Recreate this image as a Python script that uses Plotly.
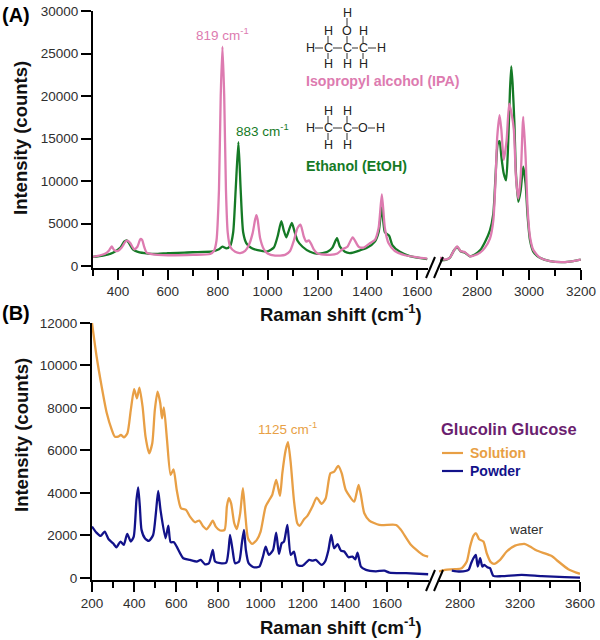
import plotly.graph_objects as go

WIDTH, HEIGHT = 600, 640

# Panel A: alcohol spectra, fingerprint region
ipa_low_shift = [300, 330, 350, 365, 375, 385, 400, 415, 430, 440, 450, 465, 478, 490, 497, 505, 515, 530, 560, 600, 700, 770, 785, 795, 805, 812, 819, 826, 833, 840, 850, 870, 890, 910, 925, 940, 950, 955, 960, 970, 985, 1000, 1030, 1070, 1090, 1105, 1120, 1132, 1145, 1155, 1165, 1175, 1185, 1200, 1250, 1280, 1300, 1320, 1341, 1365, 1385, 1410, 1430, 1445, 1458, 1470, 1485, 1510, 1550, 1600, 1640]
ipa_low_counts = [1100, 1300, 1500, 1900, 2350, 1900, 1800, 2200, 2900, 3000, 2700, 2000, 2300, 3200, 3100, 2300, 1600, 1450, 1350, 1300, 1350, 1450, 1800, 3000, 9000, 20000, 25800, 20000, 9000, 4000, 2300, 1700, 1550, 1800, 2500, 3900, 5500, 6000, 5500, 3300, 2000, 1500, 1250, 1350, 1800, 3000, 4500, 4900, 3500, 2900, 3050, 2600, 2000, 1500, 1350, 1500, 2000, 2300, 3400, 2300, 2200, 2700, 3100, 4500, 8450, 4500, 2700, 1800, 1300, 1050, 900]
etoh_low_shift = [300, 340, 380, 410, 425, 435, 445, 460, 480, 520, 560, 600, 700, 780, 805, 819, 835, 850, 862, 872, 883, 892, 902, 915, 935, 960, 1000, 1025, 1040, 1055, 1065, 1075, 1085, 1097, 1107, 1120, 1140, 1170, 1200, 1240, 1260, 1278, 1290, 1310, 1330, 1400, 1430, 1445, 1458, 1470, 1487, 1500, 1530, 1570, 1640]
etoh_low_counts = [1100, 1250, 1600, 2200, 2900, 3050, 2700, 2000, 1700, 1500, 1450, 1550, 1650, 1750, 2000, 2300, 2100, 2400, 4000, 9000, 14600, 9000, 4000, 2700, 2150, 1900, 1750, 2200, 3500, 5300, 4200, 3400, 4200, 5100, 4200, 3000, 2300, 1700, 1450, 1700, 2200, 3300, 2300, 1700, 1550, 2200, 2900, 4000, 6950, 4000, 3600, 2500, 1700, 1200, 850]

# Panel A: C-H stretching region
ipa_high_shift = [2658, 2677, 2696, 2712, 2724, 2737, 2754, 2773, 2792, 2812, 2831, 2850, 2863, 2872, 2878, 2887, 2894, 2903, 2914, 2924, 2933, 2942, 2950, 2959, 2968, 2978, 2987, 2995, 3004, 3017, 3042, 3081, 3132, 3170, 3199]
ipa_high_counts = [1020, 780, 1020, 1880, 2350, 1800, 1650, 1170, 1300, 1600, 2200, 3250, 5400, 10500, 15200, 17750, 16000, 12500, 14800, 19100, 17950, 16000, 10500, 7950, 10500, 17560, 12850, 6600, 3450, 1900, 1020, 620, 500, 620, 780]
etoh_high_shift = [2658, 2683, 2696, 2712, 2724, 2737, 2754, 2773, 2792, 2812, 2831, 2850, 2863, 2872, 2880, 2887, 2894, 2903, 2912, 2919, 2927, 2932, 2937, 2944, 2950, 2959, 2968, 2978, 2987, 2995, 3004, 3017, 3042, 3081, 3132, 3170, 3199]
etoh_high_counts = [700, 780, 1020, 1880, 2270, 1760, 1600, 1170, 1400, 1880, 2860, 4230, 6200, 10900, 14400, 14700, 12850, 10900, 10100, 13600, 20700, 23500, 21500, 16800, 10900, 7560, 8900, 11700, 9700, 5800, 3050, 1700, 1000, 600, 500, 620, 780]

# Panel B: glucose spectra, fingerprint region
solution_low_shift = [200, 222, 246, 270, 294, 308, 324, 337, 352, 368, 384, 400, 413, 425, 440, 454, 471, 486, 498, 511, 524, 532, 541, 556, 573, 587, 602, 622, 646, 665, 689, 709, 728, 744, 760, 773, 787, 808, 829, 840, 849, 860, 875, 887, 903, 916, 927, 940, 959, 982, 1000, 1024, 1043, 1055, 1074, 1092, 1103, 1119, 1130, 1143, 1158, 1174, 1185, 1206, 1222, 1246, 1266, 1290, 1309, 1331, 1349, 1368, 1385, 1404, 1444, 1455, 1465, 1476, 1492, 1516, 1563, 1643, 1666, 1714, 1770, 1795]
solution_low_counts = [12000, 10410, 9000, 7760, 6965, 6650, 6650, 6730, 6620, 6810, 7900, 8890, 8455, 8960, 8060, 6650, 5865, 6340, 7900, 8770, 8220, 7510, 8030, 6490, 4850, 5110, 4140, 3280, 3200, 2885, 2620, 2700, 2415, 2290, 2490, 2700, 2415, 2230, 2260, 3360, 3750, 3510, 2570, 2300, 3040, 4220, 3040, 1865, 1600, 1790, 2180, 3360, 3700, 3905, 4610, 3860, 4925, 6025, 6385, 5400, 3670, 2570, 2450, 2760, 2920, 3360, 3780, 3480, 3750, 4925, 5000, 5270, 4925, 4140, 3590, 3980, 4375, 3905, 3040, 2700, 2490, 2490, 2260, 1550, 1080, 1000]
powder_low_shift = [200, 221, 241, 260, 279, 300, 316, 335, 351, 367, 384, 398, 411, 419, 427, 435, 451, 470, 490, 503, 514, 525, 549, 562, 573, 589, 602, 633, 665, 697, 716, 736, 755, 773, 784, 808, 837, 848, 855, 867, 879, 898, 911, 921, 930, 943, 967, 994, 1011, 1024, 1039, 1059, 1074, 1087, 1100, 1111, 1127, 1143, 1158, 1174, 1198, 1230, 1246, 1262, 1289, 1306, 1322, 1335, 1349, 1365, 1381, 1397, 1417, 1436, 1449, 1460, 1476, 1500, 1547, 1587, 1611, 1690, 1795]
powder_low_counts = [2415, 2130, 1975, 2180, 1820, 1630, 1440, 1710, 1550, 2070, 1710, 1945, 3670, 4265, 3355, 2260, 1865, 1740, 2020, 3040, 4090, 3200, 1865, 2460, 1680, 1680, 1470, 925, 845, 770, 845, 640, 690, 1320, 770, 690, 720, 1320, 2020, 1320, 690, 770, 1630, 2260, 1320, 690, 500, 530, 1000, 1475, 1080, 1315, 2130, 1130, 1630, 1710, 2495, 1080, 1240, 610, 565, 845, 815, 845, 610, 770, 1315, 2020, 1395, 1585, 1285, 1240, 970, 1000, 875, 1190, 530, 375, 310, 340, 250, 220, 170]

# Panel B: C-H and water stretching region
solution_high_shift = [2660, 2700, 2767, 2811, 2845, 2867, 2889, 2907, 2927, 2956, 2978, 3005, 3027, 3067, 3111, 3167, 3229, 3267, 3311, 3411, 3456, 3522, 3600]
solution_high_counts = [300, 376, 408, 455, 770, 1475, 1976, 2100, 1820, 1710, 1160, 740, 660, 850, 1240, 1520, 1600, 1475, 1286, 1035, 770, 408, 190]
powder_high_shift = [2745, 2800, 2856, 2874, 2889, 2905, 2918, 2934, 2949, 2962, 2982, 3000, 3022, 3078, 3211, 3345, 3500, 3600]
powder_high_counts = [345, 300, 376, 690, 925, 1082, 533, 925, 533, 612, 500, 455, 95, 80, 140, 80, 40, 10]

panel_a_ticks = [0, 5000, 10000, 15000, 20000, 25000, 30000]
panel_b_ticks = [0, 2000, 4000, 6000, 8000, 10000, 12000]
a_low_ticks = [400, 600, 800, 1000, 1200, 1400, 1600]
a_high_ticks = [2800, 3000, 3200]
b_low_ticks = [200, 400, 600, 800, 1000, 1200, 1400, 1600]
b_high_ticks = [2800, 3200, 3600]

PINK = "#dd7bb0"
GREEN = "#157a26"
ORANGE = "#e89f45"
NAVY = "#12128a"
PURPLE = "#6b1f70"
TEXT = "#2e2e2e"
FONT = "Liberation Sans, Arial, sans-serif"


def px(x):
    return x / WIDTH


def py(y):
    return 1 - y / HEIGHT


def x_axis(domain, value_range, ticks, minor_start, minor_step, anchor):
    return dict(
        domain=[px(domain[0]), px(domain[1])], range=value_range, anchor=anchor,
        tickmode="array", tickvals=ticks, tickformat="d", ticks="outside", ticklen=10, tickwidth=1.6,
        tickcolor="black", showline=True, linewidth=2, linecolor="black",
        showgrid=False, zeroline=False, tickfont=dict(size=13.5, color=TEXT, family=FONT),
        minor=dict(tickmode="linear", tick0=minor_start, dtick=minor_step, ticks="outside",
                   ticklen=6, tickwidth=1.6, tickcolor="black", showgrid=False),
    )


def y_axis(domain, value_range, ticks, anchor):
    return dict(
        domain=[py(domain[1]), py(domain[0])], range=value_range, anchor=anchor,
        tickmode="array", tickvals=ticks, tickformat="d", ticks="outside", ticklen=10, tickwidth=1.6,
        tickcolor="black", showline=True, linewidth=2, linecolor="black",
        showgrid=False, zeroline=False, tickfont=dict(size=13.5, color=TEXT, family=FONT),
    )


fig = go.Figure()


def spectrum(xs, ys, color, xaxis, yaxis):
    fig.add_trace(go.Scatter(x=xs, y=ys, mode="lines", xaxis=xaxis, yaxis=yaxis,
                             line=dict(color=color, width=2.3, shape="spline", smoothing=0.6),
                             showlegend=False))


spectrum(etoh_low_shift, etoh_low_counts, GREEN, "x", "y")
spectrum(ipa_low_shift, ipa_low_counts, PINK, "x", "y")
spectrum(etoh_high_shift, etoh_high_counts, GREEN, "x2", "y")
spectrum(ipa_high_shift, ipa_high_counts, PINK, "x2", "y")
spectrum(solution_low_shift, solution_low_counts, ORANGE, "x3", "y2")
spectrum(powder_low_shift, powder_low_counts, NAVY, "x3", "y2")
spectrum(solution_high_shift, solution_high_counts, ORANGE, "x4", "y2")
spectrum(powder_high_shift, powder_high_counts, NAVY, "x4", "y2")

annotations = []
shapes = []


def label(x, y, text, size=13, color=TEXT, bold=False, anchor="center", angle=0):
    annotations.append(dict(
        x=px(x), y=py(y), xref="paper", yref="paper", xanchor=anchor, yanchor="middle",
        text=f"<b>{text}</b>" if bold else text, showarrow=False, textangle=angle,
        font=dict(size=size, color=color, family=FONT),
    ))


def segment(x0, y0, x1, y1, color="black", width=2.0):
    shapes.append(dict(type="line", xref="paper", yref="paper",
                       x0=px(x0), y0=py(y0), x1=px(x1), y1=py(y1),
                       line=dict(color=color, width=width)))


# Panel letters and axis titles
label(0, 15, "(A)", size=20, color="black", bold=True, anchor="left")
label(0, 313, "(B)", size=20, color="black", bold=True, anchor="left")
label(21, 138, "Intensity (counts)", size=18.5, color="#111111", bold=True, angle=-90)
label(21, 435, "Intensity (counts)", size=18.5, color="#111111", bold=True, angle=-90)
label(341, 313, "Raman shift (cm<sup>-1</sup>)", size=18.5, color="#111111", bold=True)
label(341, 626, "Raman shift (cm<sup>-1</sup>)", size=18.5, color="#111111", bold=True)

# Peak and compound labels
label(222, 34, "819 cm<sup>-1</sup>", color=PINK, size=13.5)
label(262, 130, "883 cm<sup>-1</sup>", color=GREEN, size=13.5)
label(304, 81, "Isopropyl alcohol (IPA)", color=PINK, size=14.2, bold=True, anchor="left")
label(304, 166, "Ethanol (EtOH)", color=GREEN, size=14.2, bold=True, anchor="left")
label(287, 428, "1125 cm<sup>-1</sup>", color=ORANGE, size=13.5)
label(439, 429, "Glucolin Glucose", color=PURPLE, size=16.5, bold=True, anchor="left")
label(468, 453, "Solution", color=ORANGE, size=14, bold=True, anchor="left")
label(468, 471, "Powder", color=NAVY, size=14, bold=True, anchor="left")
label(526, 529, "water", size=13.5)
segment(442, 453, 463, 453, ORANGE, 2.2)
segment(442, 471, 463, 471, NAVY, 2.2)

# Axis break marks
for y_top, y_bottom in [(257, 278), (570, 591)]:
    segment(435, y_top, 426, y_bottom)
    segment(443, y_top, 434, y_bottom)

# Structural formula of isopropyl alcohol
ipa_atoms = [(347, 13, "H"), (328, 31, "H"), (347, 31, "O"), (363, 31, "H"), (310, 48, "H"),
             (328, 48, "C"), (347, 48, "C"), (363, 48, "C"), (381, 48, "H"), (328, 64, "H"),
             (347, 64, "H"), (363, 64, "H")]
# Structural formula of ethanol
etoh_atoms = [(328, 111, "H"), (347, 111, "H"), (310, 128, "H"), (328, 128, "C"), (347, 128, "C"),
              (363, 128, "O"), (380, 128, "H"), (328, 145, "H"), (347, 145, "H")]
for ax, ay, atom in ipa_atoms + etoh_atoms:
    label(ax, ay, atom, size=12.5, color="#222222")

for bx in (328, 347, 363):
    segment(bx, 36, bx, 43, "#333333", 1)
    segment(bx, 53, bx, 59, "#333333", 1)
segment(347, 18, 347, 26, "#333333", 1)
for x0, x1 in [(315, 323), (333, 342), (352, 358), (368, 376)]:
    segment(x0, 48, x1, 48, "#333333", 1)
for bx in (328, 347):
    segment(bx, 116, bx, 123, "#333333", 1)
    segment(bx, 133, bx, 140, "#333333", 1)
for x0, x1 in [(315, 323), (333, 342), (352, 358), (368, 375)]:
    segment(x0, 128, x1, 128, "#333333", 1)

fig.update_layout(
    width=WIDTH, height=HEIGHT, margin=dict(l=0, r=0, t=0, b=0, autoexpand=False),
    paper_bgcolor="white", plot_bgcolor="rgba(0,0,0,0)", showlegend=False,
    font=dict(family=FONT),
    xaxis=x_axis((93, 428), [300, 1643], a_low_ticks, 300, 100, "y"),
    xaxis2=x_axis((440, 581), [2658, 3200], a_high_ticks, 2700, 100, "y"),
    xaxis3=x_axis((92, 429), [200, 1799], b_low_ticks, 200, 100, "y2"),
    xaxis4=x_axis((438, 580), [2653, 3600], b_high_ticks, 2800, 200, "y2"),
    yaxis=y_axis((11, 268), [-200, 30000], panel_a_ticks, "x"),
    yaxis2=y_axis((323, 580), [-100, 12000], panel_b_ticks, "x3"),
    annotations=annotations, shapes=shapes,
)

fig.write_html("out.html")
